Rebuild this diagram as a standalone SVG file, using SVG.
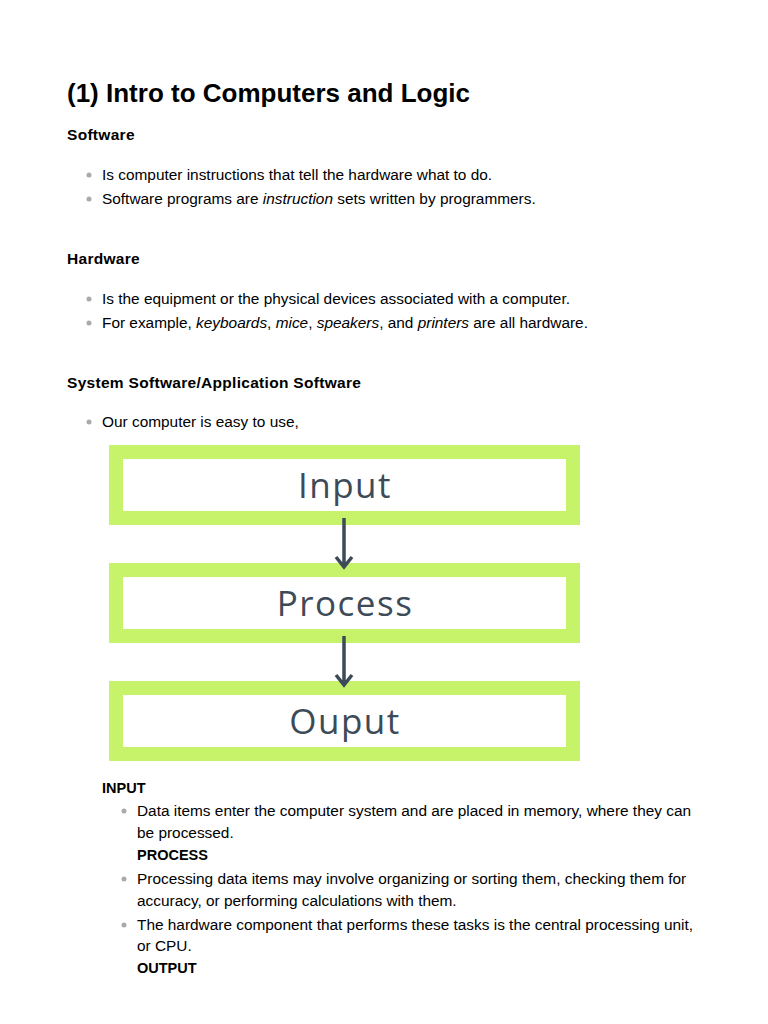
<svg xmlns="http://www.w3.org/2000/svg" width="768" height="1024" viewBox="0 0 768 1024">
<style>
text{font-family:"Liberation Sans",Arial,sans-serif;fill:#000}
.h1{font-size:26px;font-weight:bold}
.h3{font-size:15.5px;font-weight:bold;letter-spacing:0.3px}
.p{font-size:15.4px}
.b{font-size:14.5px;font-weight:bold}
.bul{fill:#aaa}
.box{fill:#fff;stroke:#c6f36a;stroke-width:14}
.bt{font-family:"Open Sans","Noto Sans",sans-serif;font-size:35px;fill:#3d4a57;text-anchor:middle;letter-spacing:1.5px}
.ar{stroke:#3d4a57;stroke-width:3.5;fill:none}
</style>
<rect width="768" height="1024" fill="#fff"/>
<text class="h1" x="67" y="102">(1) Intro to Computers and Logic</text>
<text class="h3" x="67" y="140">Software</text>
<circle class="bul" cx="89" cy="175" r="2.5"/>
<text class="p" x="102" y="180">Is computer instructions that tell the hardware what to do.</text>
<circle class="bul" cx="89" cy="199" r="2.5"/>
<text class="p" x="102" y="204">Software programs are <tspan font-style="italic">instruction</tspan> sets written by programmers.</text>
<text class="h3" x="67" y="264">Hardware</text>
<circle class="bul" cx="89" cy="299" r="2.5"/>
<text class="p" x="102" y="304">Is the equipment or the physical devices associated with a computer.</text>
<circle class="bul" cx="89" cy="323" r="2.5"/>
<text class="p" x="102" y="328">For example, <tspan font-style="italic">keyboards</tspan>, <tspan font-style="italic">mice</tspan>, <tspan font-style="italic">speakers</tspan>, and <tspan font-style="italic">printers</tspan> are all hardware.</text>
<text class="h3" x="67" y="388">System Software/Application Software</text>
<circle class="bul" cx="89" cy="422" r="2.5"/>
<text class="p" x="102" y="427">Our computer is easy to use,</text>
<g id="input"><rect class="box" x="116" y="452" width="457" height="66"/><text class="bt" x="345" y="498">Input</text></g>
<g id="process"><rect class="box" x="116" y="570" width="457" height="66"/><text class="bt" x="345" y="616">Process</text></g>
<g id="output"><rect class="box" x="116" y="688" width="457" height="66"/><text class="bt" x="345" y="734">Ouput</text></g>
<g id="connectors">
<path class="ar" d="M344 518V567M336 557L344 567L352 557"/>
<path class="ar" d="M344 636V685M336 675L344 685L352 675"/>
</g>
<text class="b" x="102" y="793">INPUT</text>
<circle class="bul" cx="124" cy="811" r="2.5"/>
<text class="p" x="137" y="816">Data items enter the computer system and are placed in memory, where they can</text>
<text class="p" x="137" y="838">be processed.</text>
<text class="b" x="137" y="860">PROCESS</text>
<circle class="bul" cx="124" cy="879" r="2.5"/>
<text class="p" x="137" y="884">Processing data items may involve organizing or sorting them, checking them for</text>
<text class="p" x="137" y="906">accuracy, or performing calculations with them.</text>
<circle class="bul" cx="124" cy="925" r="2.5"/>
<text class="p" x="137" y="930">The hardware component that performs these tasks is the central processing unit,</text>
<text class="p" x="137" y="951">or CPU.</text>
<text class="b" x="137" y="973">OUTPUT</text>
</svg>
